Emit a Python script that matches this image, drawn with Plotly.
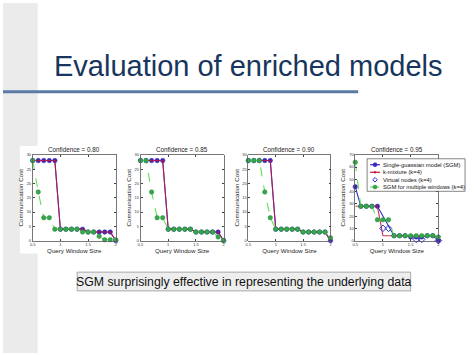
import plotly.graph_objects as go

W, H = 474, 355

# ---------------- data ----------------
x_vals = [0.5, 0.6, 0.7, 0.8, 0.9, 1.0, 1.1, 1.2, 1.3, 1.4, 1.5, 1.6, 1.7, 1.8, 1.9, 2.0]
confidences = ["0.80", "0.85", "0.90", "0.95"]

sgm_080 = [28, 28, 28, 28, 28, 4, 4, 4, 4, 4, 3, 3, 3, 3, 3, 0]
kmix_080 = [28, 28, 28, 28, 28, 4, 4, 4, 4, 4, 3, 3, 3, 3, 3, 0]
vn_080 = [None] * 16
multi_080 = [28, 17, 8, 8, 4, 4, 4, 4, 4, 3, 3, 3, 1.5, 0.3, 0.3, 0.3]

sgm_085 = [28, 28, 28, 28, 28, 4, 4, 4, 4, 4, 3, 3, 3, 3, 3, 0]
kmix_085 = [28, 28, 28, 28, 28, 4, 4, 4, 4, 4, 3, 3, 3, 3, 3, 0]
vn_085 = [None] * 16
multi_085 = [28, 28, 17, 8, 8, 4, 4, 4, 4, 4, 3, 3, 3, 3, 1.3, 0]

sgm_090 = [28, 28, 28, 28, 28, 4, 4, 4, 4, 4, 3, 3, 3, 3, 3, 0]
kmix_090 = [28, 28, 28, 28, 28, 4, 4, 4, 4, 4, 3, 3, 3, 3, 3, 0]
vn_090 = [None] * 16
multi_090 = [28, 28, 28, 17, 8, 4, 4, 4, 4, 4, 3, 3, 3, 3, 3, 1]

sgm_095 = [44, 28, 28, 28, 28, None, None, 4, 4, 4, 3, 3, 3, 4, 4, 0]
kmix_095 = [28, 28, 28, 28, 28, 4, 4, 4, 4, 4, 4, 4, 4, 4, 4, 3]
vn_095 = [None, None, None, None, None, 10, 10, None, None, None, None, 1, 1, None, None, 0]
multi_095 = [64, 28, 28, 28, 17, 17, 17, 4, 4, 4, 4, 4, 4, 4, 4, 3]

y_max = [30, 30, 30, 70]
y_dtick = [5, 5, 5, 10]

series = [
    (sgm_080, kmix_080, vn_080, multi_080),
    (sgm_085, kmix_085, vn_085, multi_085),
    (sgm_090, kmix_090, vn_090, multi_090),
    (sgm_095, kmix_095, vn_095, multi_095),
]

legend_names = ["Single-guassian model (SGM)", "k-mixture (k=4)",
                "Virtual nodes (k=4)", "SGM for multiple windows (k=4)"]

# ---------------- layout helpers ----------------
FONT = "Liberation Sans, Arial, Helvetica, sans-serif"
panel_x = [(30, 114), (139, 223), (248, 331), (356, 440)]
panel_top, panel_bot = 154, 241


def px(v):
    return v / W


def py(v):
    return 1 - v / H


BLUE = "#2a2ad0"
MARK = "#4a22a8"
RED = "#c0183c"
GREEN_LINE = "#5fe05a"
GREEN_MARK = "#34a84a"

fig = go.Figure()
layout = {}
annotations = []
shapes = []

for i, (sgm, kmix, vn, multi) in enumerate(series):
    n = i + 1
    xa = "x" if n == 1 else f"x{n}"
    ya = "y" if n == 1 else f"y{n}"
    fig.add_trace(go.Scatter(x=x_vals, y=sgm, xaxis=xa, yaxis=ya, mode="lines+markers",
                             connectgaps=True, cliponaxis=False, showlegend=False,
                             line=dict(color=BLUE, width=1.1),
                             marker=dict(symbol="circle", size=4.5, color=MARK,
                                         line=dict(color=BLUE, width=0.5)),
                             name=legend_names[0]))
    fig.add_trace(go.Scatter(x=x_vals, y=kmix, xaxis=xa, yaxis=ya, mode="lines",
                             cliponaxis=False, showlegend=False, opacity=0.85,
                             line=dict(color=RED, width=1.1), name=legend_names[1]))
    fig.add_trace(go.Scatter(x=x_vals, y=vn, xaxis=xa, yaxis=ya, mode="markers",
                             cliponaxis=False, showlegend=False,
                             marker=dict(symbol="diamond-open", size=5, color=BLUE,
                                         line=dict(width=1)),
                             name=legend_names[2]))
    fig.add_trace(go.Scatter(x=x_vals, y=multi, xaxis=xa, yaxis=ya, mode="lines+markers",
                             cliponaxis=False, showlegend=False,
                             line=dict(color=GREEN_LINE, width=1.1, dash="dash"),
                             marker=dict(symbol="circle", size=4.5, color=GREEN_MARK,
                                         line=dict(color="#2b8a3c", width=0.5)),
                             name=legend_names[3]))

    x0, x1 = panel_x[i]
    layout["xaxis" if n == 1 else f"xaxis{n}"] = dict(
        domain=[px(x0), px(x1)], anchor=ya, range=[0.5, 2.0],
        tickvals=[0.5, 1, 1.5, 2], ticktext=["0.5", "1", "1.5", "2"],
        ticks="inside", ticklen=2, tickcolor="#444", tickfont=dict(size=4, color="#333", family=FONT),
        showline=True, mirror="ticks", linecolor="#555", linewidth=0.8,
        showgrid=False, zeroline=False,
        title=dict(text="Query Window Size", font=dict(size=6.2, color="#222", family=FONT), standoff=1),
    )
    layout["yaxis" if n == 1 else f"yaxis{n}"] = dict(
        domain=[py(panel_bot), py(panel_top)], anchor=xa, range=[0, y_max[i]],
        dtick=y_dtick[i], ticks="inside", ticklen=2, tickcolor="#444",
        tickfont=dict(size=4, color="#333", family=FONT),
        showline=True, mirror="ticks", linecolor="#555", linewidth=0.8,
        showgrid=False, zeroline=False,
        title=dict(text="Communication Cost", font=dict(size=6.2, color="#222", family=FONT), standoff=2),
    )
    annotations.append(dict(text=f"Confidence = {confidences[i]}", xref="paper", yref="paper",
                            x=px((x0 + x1) / 2), y=py(149), xanchor="center", yanchor="middle",
                            showarrow=False, font=dict(size=6.3, color="#222", family=FONT)))

# ---------------- slide decoration ----------------
shapes.append(dict(type="rect", xref="paper", yref="paper", x0=0, x1=px(35), y0=0, y1=1,
                   fillcolor="#ebebeb", line=dict(width=0), layer="below"))
shapes.append(dict(type="rect", xref="paper", yref="paper", x0=px(17), x1=px(471), y0=py(254), y1=py(145),
                   fillcolor="white", line=dict(width=0), layer="below"))
shapes.append(dict(type="line", xref="paper", yref="paper", x0=0, x1=px(359), y0=py(90), y1=py(90),
                   line=dict(color="#5b7ba6", width=3), layer="below"))
annotations.append(dict(text="Evaluation of enriched models", xref="paper", yref="paper",
                        x=px(50), y=py(64), xanchor="left", yanchor="middle", showarrow=False,
                        font=dict(size=29, color="#17365d", family=FONT)))

# bottom callout box
shapes.append(dict(type="rect", xref="paper", yref="paper", x0=px(75), x1=px(412), y0=py(292), y1=py(273),
                   fillcolor="#eeeeee", line=dict(color="#a8a8a8", width=1)))
annotations.append(dict(text="SGM surprisingly effective in representing the underlying data",
                        xref="paper", yref="paper", x=px(243.5), y=py(282.5), xanchor="center",
                        yanchor="middle", showarrow=False,
                        font=dict(size=12.3, color="#111", family=FONT)))

# ---------------- compact legend inside the 4th panel ----------------
lg_x0, lg_x1, lg_y0, lg_y1 = 368, 467, 158, 191
shapes.append(dict(type="rect", xref="paper", yref="paper", x0=px(lg_x0), x1=px(lg_x1),
                   y0=py(lg_y1), y1=py(lg_y0), fillcolor="white", line=dict(color="#333", width=0.6)))
rows = [164, 171.7, 179.3, 186.7]
sx0, sx1, sxc = 371, 381, 376
# SGM
shapes.append(dict(type="line", xref="paper", yref="paper", x0=px(sx0), x1=px(sx1), y0=py(rows[0]), y1=py(rows[0]),
                   line=dict(color=BLUE, width=1.2)))
shapes.append(dict(type="circle", xref="paper", yref="paper", x0=px(sxc - 2), x1=px(sxc + 2),
                   y0=py(rows[0] + 2), y1=py(rows[0] - 2), fillcolor=MARK, line=dict(color=BLUE, width=0.6)))
# k-mixture
shapes.append(dict(type="line", xref="paper", yref="paper", x0=px(sx0), x1=px(sx1), y0=py(rows[1]), y1=py(rows[1]),
                   line=dict(color=RED, width=1.2)))
shapes.append(dict(type="circle", xref="paper", yref="paper", x0=px(sxc - 1), x1=px(sxc + 1),
                   y0=py(rows[1] + 1), y1=py(rows[1] - 1), fillcolor=RED, line=dict(color=RED, width=0.5)))
# virtual nodes (diamond)
d = 2.3
shapes.append(dict(type="path", xref="paper", yref="paper",
                   path=(f"M {px(sxc)},{py(rows[2] - d)} L {px(sxc + d)},{py(rows[2])} "
                         f"L {px(sxc)},{py(rows[2] + d)} L {px(sxc - d)},{py(rows[2])} Z"),
                   fillcolor="white", line=dict(color=BLUE, width=1)))
# multiple windows
shapes.append(dict(type="line", xref="paper", yref="paper", x0=px(sx0), x1=px(sx1), y0=py(rows[3]), y1=py(rows[3]),
                   line=dict(color=GREEN_LINE, width=1.2, dash="dash")))
shapes.append(dict(type="circle", xref="paper", yref="paper", x0=px(sxc - 2), x1=px(sxc + 2),
                   y0=py(rows[3] + 2), y1=py(rows[3] - 2), fillcolor=GREEN_MARK, line=dict(color="#2b8a3c", width=0.5)))
for name, ry in zip(legend_names, rows):
    annotations.append(dict(text=name, xref="paper", yref="paper", x=px(382.5), y=py(ry),
                            xanchor="left", yanchor="middle", showarrow=False,
                            font=dict(size=5.8, color="#111", family=FONT)))

fig.update_layout(
    width=W, height=H, margin=dict(l=0, r=0, t=0, b=0),
    paper_bgcolor="white", plot_bgcolor="white",
    showlegend=False, annotations=annotations, shapes=shapes,
    font=dict(family=FONT),
    **layout,
)

fig.write_html(
    "out.html",
    config={"displayModeBar": False, "staticPlot": True},
    post_script=(
        "document.documentElement.style.margin='0';"
        "document.body.style.margin='0';document.body.style.padding='0';"
        "document.body.style.overflow='hidden';"
        "var gd=document.getElementById('{plot_id}');"
        "gd.style.position='absolute';gd.style.left='0px';gd.style.top='0px';"
    ),
)
